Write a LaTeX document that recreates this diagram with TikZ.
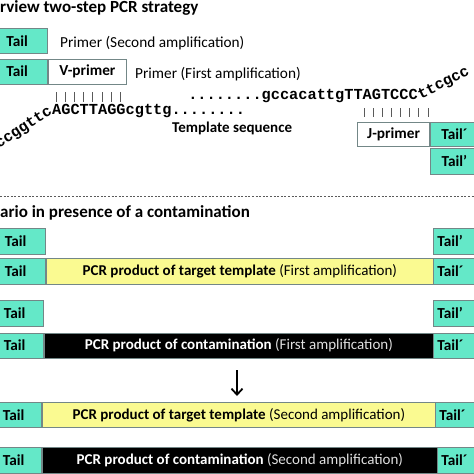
\documentclass[tikz,border=0pt]{standalone}
\usepackage{fontspec}
\setmainfont{Carlito}
\newfontfamily\seqfont{Liberation Mono}
\usetikzlibrary{arrows.meta}
\definecolor{tailc}{RGB}{100,232,200}
\definecolor{bordc}{RGB}{115,135,135}
\definecolor{prodyel}{RGB}{250,250,145}
\definecolor{tickc}{RGB}{90,90,90}
\begin{document}
\begin{tikzpicture}[x=1pt,y=-1pt,
  font=\fontsize{15.3}{18}\selectfont,
  box/.style={draw=bordc, line width=0.8pt, minimum height=25pt, inner sep=0pt,
    font=\fontsize{15.3}{18}\selectfont\bfseries},
  tailbox/.style={box, fill=tailc},
  tailL/.style={tailbox, anchor=east, minimum width=60pt},
  tailR/.style={tailbox, anchor=west, text width=40pt, align=left, inner xsep=4pt},
  prod/.style={box, anchor=west, font=\fontsize{15}{18}\selectfont},
  heading/.style={anchor=west, inner sep=0pt, font=\fontsize{17}{20}\selectfont\bfseries},
  lab/.style={anchor=west, inner sep=0pt},
  seq/.style={inner sep=0pt, font=\fontsize{15.3}{18}\seqfont\bfseries},
  tickline/.style={draw=tickc, line width=0.8pt},
  sep/.style={draw=tickc, line width=0.8pt, dash pattern=on 2pt off 1.6pt},
  arr/.style={-{Straight Barb[length=6pt,width=11pt]}, line width=1.8pt}
]
\useasboundingbox (0,0) rectangle (474,474);
\clip (0,0) rectangle (474,474);

% ---------- section 1 ----------
\node[heading] (h1) at (0,8) {rview two-step PCR strategy};

\node[tailL, minimum width=61pt] (t1) at (48,41) {Tail};
\node[lab] (l1) at (60,43) {Primer (Second amplification)};

\node[tailL, minimum width=61pt] (t2) at (48,71.5) {Tail};
\node[box, fill=white, anchor=west, minimum width=78pt] (vp) at (48,71.5) {V-primer};
\node[lab] (l2) at (135,74) {Primer (First amplification)};

\foreach \i in {0,...,7} \draw[tickline] (56+\i*9.2,92) -- ++(0,10);

\node[seq, anchor=west] (s1) at (52,111) {AGCTTAGGcgttg........};
\node[seq, anchor=east, rotate=33] (s0) at ([xshift=-1pt,yshift=1pt]s1.west) {ccggttc};

\node[seq, anchor=east] (s2) at (418,96) {........gccacattgTTAGTCCC};
\node[seq, anchor=west, rotate=26] (s3) at ([xshift=1pt]s2.east) {ttcgcc};

\node[lab, font=\fontsize{15}{18}\selectfont\bfseries] (ts) at (172,128) {Template sequence};

\foreach \i in {0,...,7} \draw[tickline] (364+\i*9.14,108) -- ++(0,9);

\node[box, fill=white, anchor=east, minimum width=72pt, minimum height=24pt] (jp) at (430,134) {J-primer};
\node[tailbox, anchor=west, minimum width=48pt, minimum height=24pt] (tj1) at (430,134) {Tail´};
\node[tailbox, anchor=west, minimum width=48pt, minimum height=26pt] (tj2) at (430,161) {Tail'};

% ---------- separator ----------
\coordinate (dl) at (0,196);
\coordinate (dr) at (474,196);
\draw[sep] (dl) -- (dr);

% ---------- section 2 ----------
\node[heading] (h2) at (0,213) {ario in presence of a contamination};

% row A
\node[tailL, minimum height=26pt] (ta) at (46,241) {Tail};
\node[tailR, minimum height=26pt] (ra) at (433,241) {Tail'};
% row B
\node[tailL, minimum height=26pt] (tb) at (46,271) {Tail};
\node[prod, fill=prodyel, minimum width=387pt, minimum height=26pt] (pb) at (46,271)
  {\textbf{PCR product of target template} (First amplification)};
\node[tailR, minimum height=26pt] (rb) at (433,271) {Tail´};
% row C
\node[tailL, minimum width=58pt, minimum height=26pt] (tc) at (44,313) {Tail};
\node[tailR, minimum height=26pt] (rc) at (433,313) {Tail'};
% row D
\node[tailL, minimum width=58pt] (td) at (44,345.5) {Tail};
\node[prod, fill=black, text=white, minimum width=389pt] (pd) at (44,345.5)
  {\textbf{PCR product of contamination} \textcolor{black!12}{(First amplification)}};
\node[tailR] (rd) at (433,345.5) {Tail´};

% arrow
\coordinate (a1) at (237,370);
\coordinate (a2) at (237,396);
\draw[arr] (a1) -- (a2);

% row E
\node[tailL, minimum width=56pt] (te) at (42,415) {Tail};
\node[prod, fill=prodyel, minimum width=393pt] (pe) at (42,415)
  {\textbf{PCR product of target template} (Second amplification)};
\node[tailR] (re) at (435,415) {Tail´};
% row F
\node[tailL, minimum width=56pt, minimum height=26pt] (tf) at (42,460) {Tail};
\node[prod, fill=black, text=white, minimum width=395pt, minimum height=26pt] (pf) at (42,460)
  {\textbf{PCR product of contamination} \textcolor{black!12}{(Second amplification)}};
\node[tailR, minimum height=26pt] (rf) at (437,460) {Tail´};
\end{tikzpicture}
\end{document}
